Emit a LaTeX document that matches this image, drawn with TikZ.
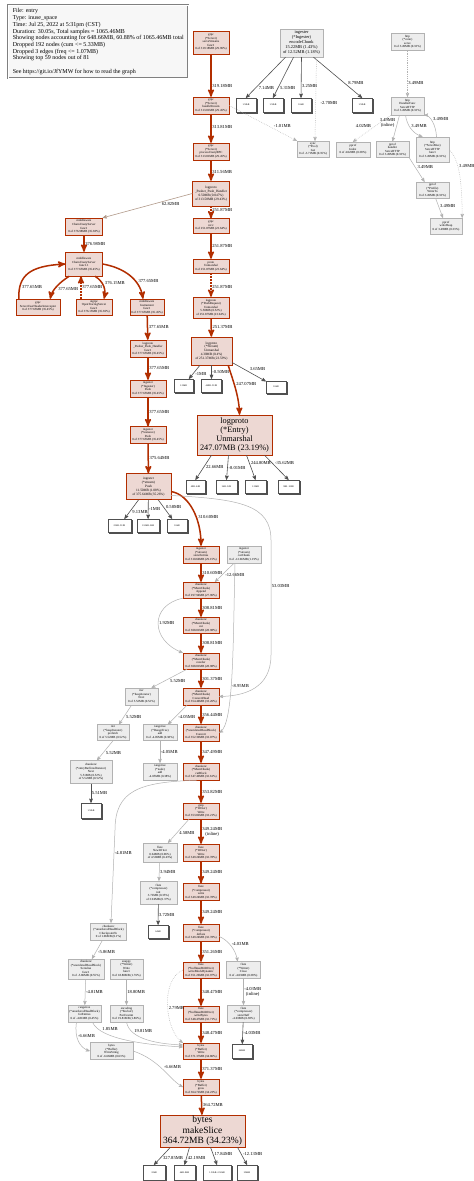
\documentclass[tikz,border=0pt]{standalone}
\usepackage{fontspec}
\setmainfont{Liberation Serif}
\usepackage{tikz}
\usetikzlibrary{arrows,shadows}

\definecolor{hotfill}{HTML}{EDD8D3}
\definecolor{hotline}{HTML}{B22E00}
\definecolor{warmline}{HTML}{B29A8A}
\definecolor{coldfill}{HTML}{EDEDED}
\definecolor{coldline}{HTML}{B2B2B2}
\definecolor{tagline}{HTML}{505050}

\newcommand\fnode{\fontsize{3.1}{3.5}\selectfont}
\newcommand\fmid{\fontsize{3.4}{3.9}\selectfont}
\newcommand\fenc{\fontsize{4.4}{5}\selectfont}
\newcommand\fbig{\fontsize{8.3}{8.9}\selectfont}
\newcommand\fslice{\fontsize{9.5}{10.3}\selectfont}
\newcommand\ftag{\fontsize{2.4}{2.7}\selectfont}
\newcommand\flabel{\fontsize{4.6}{5}\selectfont}
\newcommand\fhead{\fontsize{6}{6.7}\selectfont}

\begin{document}
\begin{tikzpicture}[x=1pt,y=-1pt,>=stealth',auto,
    func node/.style={rectangle,draw=hotline,fill=hotfill,line width=0.4pt,align=center,
      inner sep=0.3pt,font=\fnode,minimum width=36pt,minimum height=17pt},
    cold node/.style={func node,draw=coldline,fill=coldfill},
    tag node/.style={rectangle,draw=tagline,fill=white,line width=0.4pt,font=\ftag,inner sep=0.3pt,
      minimum width=20pt,minimum height=13pt,
      copy shadow={shadow xshift=0.9pt,shadow yshift=-0.9pt,fill=black!45,draw=tagline}},
    legend/.style={anchor=north west,draw=black!50,double=white,double distance=1.3pt,
      fill=black!3,align=left,inner xsep=4.6pt,inner ysep=3.6pt,font=\fhead},
    hot/.style={->,draw=hotline,line width=1.5pt},
    hot dots/.style={hot,dash pattern=on 1.5pt off 1.5pt},
    warm/.style={->,draw=warmline,line width=0.6pt},
    cold/.style={->,draw=coldline,line width=0.5pt},
    cold dots/.style={cold,dash pattern=on 0.6pt off 1.2pt},
    tag edge/.style={->,draw=tagline,line width=0.6pt},
    lbl/.style={font=\flabel,inner sep=0.6pt,align=center}]
  \fill[white] (0,0) rectangle (474,1181);
  \useasboundingbox (0,0) rectangle (474,1181);

  \node[legend] (legend) at (8,5) {File: entry\\Type: inuse\_space\\Time: Jul 25, 2022 at 5:31pm (CST)\\
    Duration: 30.05s, Total samples = 1065.46MB\\
    Showing nodes accounting for 648.66MB, 60.88\% of 1065.46MB total\\
    Dropped 192 nodes (cum <= 5.33MB)\\Dropped 3 edges (freq <= 1.07MB)\\
    Showing top 59 nodes out of 81\\[6.7pt]See https://git.io/JfYMW for how to read the graph};

  % grpc entry chain
  \node[func node,minimum height=23pt] (serve) at (211,42.5) {grpc\\(*Server)\\serveStreams\\func1\\0 of 319.18MB (29.96\%)};
  \node[func node] (handle) at (211,105.5) {grpc\\(*Server)\\handleStream\\0 of 313.81MB (29.45\%)};
  \node[func node] (process) at (211,151.5) {grpc\\(*Server)\\processUnaryRPC\\0 of 313.81MB (29.45\%)};
  \node[func node,font=\fmid,minimum width=37pt,minimum height=25pt] (pushh) at (211,193.5) {logproto\\\_Pusher\_Push\_Handler\\0.50MB (0.047\%)\\of 313.58MB (29.43\%)};

  \node[func node,minimum height=15pt] (recv) at (211,226) {grpc\\recv\\0 of 251.87MB (23.64\%)};
  \node[func node,minimum height=14pt] (unmarshal) at (211,266) {proto\\Unmarshal\\0 of 251.87MB (23.64\%)};
  \node[func node,minimum height=21pt] (pushreq) at (211,307.5) {logproto\\(*PushRequest)\\Unmarshal\\5.50MB (0.52\%)\\of 251.87MB (23.64\%)};
  \node[func node,font=\fmid,minimum width=41pt,minimum height=28pt] (stream) at (211.5,351) {logproto\\(*Stream)\\Unmarshal\\4.30MB (0.4\%)\\of 251.37MB (23.59\%)};
  \node[func node,font=\fbig,minimum width=75pt,minimum height=40pt] (entry) at (234.5,435) {logproto\\(*Entry)\\Unmarshal\\247.07MB (23.19\%)};

  \node[tag node,minimum width=19pt] (ta1) at (183.5,385.5) {1.50kB};
  \node[tag node] (ta2) at (211.5,385.5) {448B..512B};
  \node[tag node,minimum height=12pt] (ta3) at (276,387) {16kB};
  \node[tag node,minimum width=19pt] (tb1) at (195.5,486.5) {48B..64B};
  \node[tag node,minimum width=21pt] (tb2) at (226.5,486.5) {24B..32B};
  \node[tag node,minimum width=21pt] (tb3) at (255.5,486.5) {1.50kB};
  \node[tag node,minimum width=21pt] (tb4) at (288.5,486.5) {96B..128B};

  % interceptors
  \node[func node,minimum width=37pt] (chain1) at (84,226.5) {middleware\\ChainUnaryServer\\func1\\0 of 376.98MB (35.38\%)};
  \node[func node,minimum width=37pt,minimum height=24pt] (chain2) at (84,264) {middleware\\ChainUnaryServer\\func1.1\\0 of 377.65MB (35.45\%)};
  \node[func node,minimum width=44pt,minimum height=16pt] (userhdr) at (38,307) {grpc\\ServerUserHeaderInterceptor\\0 of 377.65MB (35.45\%)};
  \node[func node,minimum height=16pt] (otgrpc) at (94,307) {otgrpc\\OpenTracingServer\\func1\\0 of 376.15MB (35.30\%)};
  \node[func node,minimum width=34pt,minimum height=16pt] (instrument) at (147,307) {middleware\\Instrument\\func1\\0 of 377.65MB (35.45\%)};
  \node[func node] (pushfn) at (148,348.5) {logproto\\\_Pusher\_Push\_Handler\\func1\\0 of 377.65MB (35.45\%)};
  \node[func node] (ingpush) at (148,388.5) {ingester\\(*Ingester)\\Push\\0 of 377.65MB (35.45\%)};
  \node[func node] (instpush) at (148,435) {ingester\\(*instance)\\Push\\0 of 377.65MB (35.45\%)};
  \node[func node,font=\fmid,minimum width=45pt,minimum height=26pt] (strpush) at (148.5,486.5) {ingester\\(*stream)\\Push\\11.50MB (1.08\%)\\of 375.64MB (35.26\%)};
  \node[tag node,minimum width=23pt] (tc1) at (119.5,525.5) {256B..512B};
  \node[tag node,minimum width=22pt] (tc2) at (148,525.5) {1.50kB..2kB};
  \node[tag node] (tc3) at (177,525.5) {16kB};

  % chunk and compression chain
  \node[func node] (store) at (201,554.5) {ingester\\(*stream)\\storeEntries\\0 of 310.60MB (29.15\%)};
  \node[func node,minimum height=16pt] (append) at (201,590) {chunkenc\\(*MemChunk)\\Append\\0 of 297.94MB (27.96\%)};
  \node[func node,minimum height=16pt] (cut) at (201,625) {chunkenc\\(*MemChunk)\\cut\\0 of 308.81MB (28.98\%)};
  \node[func node,minimum height=16pt] (reorder) at (201,661) {chunkenc\\(*MemChunk)\\reorder\\0 of 308.81MB (28.98\%)};
  \node[func node] (convhead) at (201,696.5) {chunkenc\\(*MemChunk)\\ConvertHead\\0 of 354.40MB (33.26\%)};
  \node[func node] (convert) at (201,732.5) {chunkenc\\(*unorderedHeadBlock)\\Convert\\0 of 352.39MB (33.07\%)};
  \node[func node] (cutblock) at (201,771.5) {chunkenc\\(*MemChunk)\\cutBlock\\0 of 347.49MB (32.61\%)};
  \node[func node,minimum height=16pt] (gzwrite) at (201,811) {gzip\\(*Writer)\\Write\\0 of 353.82MB (33.21\%)};
  \node[func node] (flwrite) at (201,852.5) {flate\\(*Writer)\\Write\\0 of 349.24MB (32.78\%)};
  \node[func node] (compwrite) at (201,892) {flate\\(*compressor)\\write\\0 of 349.24MB (32.78\%)};
  \node[func node] (deflate) at (201,932.5) {flate\\(*compressor)\\deflate\\0 of 349.24MB (32.78\%)};
  \node[func node,minimum height=16pt] (dynamic) at (201,970) {flate\\(*huffmanBitWriter)\\writeBlockDynamic\\0 of 351.26MB (32.97\%)};
  \node[func node,minimum height=16pt] (wbytes) at (201,1014) {flate\\(*huffmanBitWriter)\\writeBytes\\0 of 348.47MB (32.71\%)};
  \node[func node,minimum height=16pt] (bufwrite) at (201,1051) {bytes\\(*Buffer)\\Write\\0 of 371.37MB (34.86\%)};
  \node[func node,minimum height=16pt] (bufgrow) at (201,1087) {bytes\\(*Buffer)\\grow\\0 of 364.72MB (34.23\%)};
  \node[func node,font=\fslice,minimum width=85pt,minimum height=32pt] (slice) at (202.5,1131) {bytes\\makeSlice\\364.72MB (34.23\%)};
  \node[tag node,minimum width=22pt,minimum height=15pt] (td1) at (154,1172.5) {32kB};
  \node[tag node,minimum width=21pt,minimum height=15pt] (td2) at (184.5,1172.5) {4kB..8kB};
  \node[tag node,minimum width=28pt,minimum height=15pt] (td3) at (217,1172.5) {1.50kB..2.50kB};
  \node[tag node,minimum height=15pt] (td4) at (247,1172.5) {256kB};

  % side branches
  \node[cold node,minimum width=34pt] (cutchunk) at (244,554.5) {ingester\\(*stream)\\cutChunk\\0 of -12.66MB (1.19\%)};
  \node[cold node,minimum width=33pt] (heapnext) at (141.5,696.5) {iter\\(*heapIterator)\\Next\\0 of 5.52MB (0.52\%)};
  \node[cold node,minimum width=32pt,minimum height=16pt] (prefetch) at (113,732.5) {iter\\(*heapIterator)\\prefetch\\0 of 5.52MB (0.52\%)};
  \node[cold node,minimum width=42pt,minimum height=23pt] (bufnext) at (91,772) {chunkenc\\(*entryBufferedIterator)\\Next\\5.51MB (0.52\%)\\of 5.52MB (0.52\%)};
  \node[tag node,minimum height=15pt] (tl3) at (91,810.5) {1.50kB};
  \node[cold node,minimum width=34pt,minimum height=16pt] (rtadd) at (160,732.5) {rangetree\\(*RangeTree)\\add\\0 of -4.05MB (0.38\%)};
  \node[cold node,minimum width=34pt] (rtnode) at (160,771.5) {rangetree\\(*node)\\add\\-4.05MB (0.38\%)};
  \node[cold node,minimum width=34pt,minimum height=19pt] (newwriter) at (160,852.5) {flate\\NewWriter\\0.64MB (0.06\%)\\of 4.58MB (0.43\%)};
  \node[cold node,minimum width=37pt,minimum height=23pt] (compinit) at (158.5,892.5) {flate\\(*compressor)\\init\\3.72MB (0.35\%)\\of 3.94MB (0.37\%)};
  \node[tag node] (tm2) at (158,931.5) {64kB};
  \node[cold node] (checkpoint) at (108.5,931.5) {chunkenc\\(*unorderedHeadBlock)\\CheckpointTo\\0 of 1.06MB (0.1\%)};
  \node[cold node,minimum height=20pt] (serfunc) at (86,969) {chunkenc\\(*unorderedHeadBlock)\\Serialise\\func1\\0 of -5.86MB (0.55\%)};
  \node[cold node,minimum width=33pt,minimum height=20pt] (snappy) at (126.5,969) {snappy\\(*Writer)\\Write\\func1\\0 of 18.80MB (1.76\%)};
  \node[cold node,minimum width=33pt] (forentries) at (84.5,1013.5) {rangetree\\(*unorderedHeadBlock)\\forEntries\\0 of -4.81MB (0.45\%)};
  \node[cold node,minimum width=33pt] (uvarint) at (126.5,1013.5) {encoding\\(*Encbuf)\\PutUvarint\\0 of 19.81MB (1.86\%)};
  \node[cold node,minimum width=43pt] (wstring) at (111.5,1051) {bytes\\(*Buffer)\\WriteString\\0 of -6.66MB (0.63\%)};
  \node[cold node,minimum width=34pt] (flclose) at (243.5,970) {flate\\(*Writer)\\Close\\0 of -4.03MB (0.38\%)};
  \node[cold node,minimum width=32pt] (storehuff) at (243.5,1013.5) {flate\\(*compressor)\\storeHuff\\-4.03MB (0.38\%)};
  \node[tag node,minimum height=14pt] (tr2) at (242,1051) {640kB};

  % top right
  \node[cold node,font=\fenc,minimum width=43pt,minimum height=28pt] (encode) at (301.5,43) {ingester\\(*Ingester)\\encodeChunk\\15.22MB (1.43\%)\\of 12.52MB (1.18\%)};
  \node[tag node,minimum height=14pt] (te1) at (246,105) {1.50kB};
  \node[tag node,minimum height=14pt] (te2) at (273,105) {1.50kB};
  \node[tag node,minimum height=14pt] (te3) at (301,105) {16kB};
  \node[tag node,minimum height=14pt] (te4) at (362,105) {1.50kB};
  \node[cold node,minimum width=32pt,minimum height=16pt] (poolget) at (313,149) {sync\\(*Pool)\\Get\\0 of -3.71MB (0.35\%)};
  \node[cold node,minimum width=33pt] (conn) at (407.5,42) {http\\(*conn)\\serve\\0 of 3.49MB (0.33\%)};
  \node[cold node,minimum width=33pt,minimum height=18pt] (handler) at (407.5,106) {http\\HandlerFunc\\ServeHTTP\\0 of 3.49MB (0.33\%)};
  \node[cold node,minimum width=34pt,minimum height=15pt] (pindex) at (353,149.5) {pprof\\Index\\0 of 4.02MB (0.38\%)};
  \node[cold node,minimum width=33pt,minimum height=16pt] (phandler) at (392.5,149.5) {pprof\\handler\\ServeHTTP\\0 of 3.49MB (0.33\%)};
  \node[cold node,minimum width=33pt,minimum height=25pt] (mux) at (432.5,149.5) {http\\(*ServeMux)\\ServeHTTP\\func1\\0 of 3.49MB (0.33\%)};
  \node[cold node,minimum width=33pt,minimum height=16pt] (writeto) at (432.5,190) {pprof\\(*Profile)\\WriteTo\\0 of 3.49MB (0.33\%)};
  \node[cold node,minimum width=32pt,minimum height=16pt] (writeheap) at (446,226) {pprof\\writeHeap\\0 of 3.49MB (0.33\%)};

  % edges of the main chains
  \path
    (serve) edge[hot] node[lbl,pos=0.75] {319.18MB} (handle)
    (handle) edge[hot] node[lbl,pos=0.45] {313.81MB} (process)
    (process) edge[hot] node[lbl,pos=0.55] {311.56MB} (pushh)
    (pushh) edge[hot dots] node[lbl,pos=0.3] {251.87MB} (recv)
    (recv) edge[hot] node[lbl] {251.87MB} (unmarshal)
    (unmarshal) edge[hot dots] node[lbl,pos=0.58] {251.87MB} (pushreq)
    (pushreq) edge[hot] node[lbl] {251.37MB} (stream)
    (pushh.west) edge[warm] node[lbl,pos=0.35] {62.82MB} (chain1.north east)
    (chain1) edge[hot] node[lbl] {376.98MB} (chain2)
    ([xshift=-13pt]otgrpc.north) edge[hot dots] node[lbl,swap] {377.65MB} ([xshift=-3pt]chain2.south)
    (instrument) edge[hot] node[lbl] {377.65MB} (pushfn)
    (pushfn) edge[hot] node[lbl] {377.65MB} (ingpush)
    (ingpush) edge[hot] node[lbl] {377.65MB} (instpush)
    (instpush) edge[hot] node[lbl] {375.64MB} (strpush)
    (store) edge[hot] node[lbl] {310.60MB} (append)
    (append) edge[hot] node[lbl] {308.81MB} (cut)
    (cut) edge[hot] node[lbl] {308.81MB} (reorder)
    (reorder) edge[hot] node[lbl] {301.37MB} (convhead)
    (convhead) edge[hot] node[lbl] {356.44MB} (convert)
    (convert) edge[hot] node[lbl] {347.49MB} (cutblock)
    (cutblock) edge[hot] node[lbl] {353.82MB} (gzwrite)
    (gzwrite) edge[hot] node[lbl] {349.24MB\\(inline)} (flwrite)
    (flwrite) edge[hot] node[lbl] {349.24MB} (compwrite)
    (compwrite) edge[hot] node[lbl] {349.24MB} (deflate)
    (deflate) edge[hot] node[lbl] {351.26MB} (dynamic)
    (dynamic) edge[hot] node[lbl] {348.47MB} (wbytes)
    (wbytes) edge[hot] node[lbl] {348.47MB} (bufwrite)
    (bufwrite) edge[hot] node[lbl] {371.37MB} (bufgrow)
    (bufgrow) edge[hot] node[lbl] {364.72MB} (slice);

  \draw[hot] ([xshift=-4pt]stream.south east) .. controls (232,378) and (239,395) .. node[lbl] {247.07MB} ([xshift=5pt]entry.north);
  \draw[hot] ([xshift=4pt]chain2.south west) .. controls (60,282) and (52,290) .. node[lbl] {377.65MB} ([xshift=-10pt]userhdr.north east);
  \draw[hot] ([xshift=3pt]userhdr.north west) .. controls (18,275) and (30,266) .. node[lbl,pos=0.25,swap] {377.65MB} (chain2.west);
  \draw[hot] ([xshift=11pt]chain2.south) .. controls (104,282) and (106,290) .. node[lbl] {376.15MB} ([xshift=10pt]otgrpc.north);
  \draw[hot] (chain2.east) .. controls (125,268) and (140,280) .. node[lbl,pos=0.7] {377.65MB} ([xshift=-4pt]instrument.north);
  \draw[hot] ([yshift=-5pt]strpush.east) .. controls (190,495) and (201,520) .. node[lbl,pos=0.65] {310.60MB} (store.north);
  \draw[cold] ([yshift=-9pt]strpush.east) .. controls (240,499) and (271,505) .. (271,540)
    -- node[lbl,pos=0.4] {53.03MB} (271,655) .. controls (271,688) and (245,696) .. (convhead.east);
  \draw[cold] (append.south west) .. controls (150,605) and (150,640) .. node[lbl] {1.92MB} (reorder.north west);

  % side edges
  \path
    ([xshift=-10pt]cutchunk.south) edge[cold] node[lbl] {-12.66MB} ([xshift=14pt]append.north)
    ([xshift=-14pt]reorder.south) edge[cold] node[lbl] {5.52MB} ([xshift=10pt]heapnext.north)
    ([xshift=-14pt]convhead.south) edge[cold] node[lbl] {-4.05MB} ([xshift=8pt]rtadd.north)
    ([xshift=-10pt]heapnext.south) edge[cold] node[lbl] {5.52MB} ([xshift=6pt]prefetch.north)
    (prefetch.south) edge[cold] node[lbl] {5.52MB} ([xshift=6pt]bufnext.north)
    (rtadd) edge[cold] node[lbl] {-4.05MB} (rtnode)
    ([xshift=-12pt]gzwrite.south) edge[cold] node[lbl] {4.58MB} ([xshift=8pt]newwriter.north)
    (newwriter) edge[cold] node[lbl] {3.94MB} (compinit)
    ([xshift=-6pt]checkpoint.south) edge[cold] node[lbl] {-5.86MB} ([xshift=6pt]serfunc.north)
    (serfunc) edge[cold] node[lbl] {-4.81MB} (forentries)
    (snappy) edge[cold] node[lbl] {18.80MB} (uvarint)
    (flclose) edge[cold] node[lbl] {-4.03MB\\(inline)} (storehuff);
  \draw[cold] ([xshift=-9pt]cutchunk.south) .. controls (233,640) and (234,725) .. node[lbl,pos=0.55] {-8.95MB} (convert.east);
  \draw[cold] ([xshift=-4pt]cutblock.south) .. controls (140,782) and (115,790) .. (115,830)
    -- node[lbl,pos=0.25] {-4.81MB} ([xshift=2.5pt]checkpoint.north);
  \draw[cold] ([xshift=-8pt]forentries.south) .. controls (74,1038) and (80,1048) .. node[lbl,pos=0.4] {-6.66MB} (wstring.west);
  \draw[cold] ([xshift=8pt]forentries.south) .. controls (100,1040) and (150,1045) .. node[lbl,pos=0.2] {1.85MB} ([yshift=4pt]bufwrite.west);
  \draw[cold] (uvarint.south) .. controls (130,1040) and (160,1044) .. node[lbl,pos=0.25] {19.81MB} ([yshift=6pt]bufwrite.west);
  \draw[cold] (wstring.east) .. controls (160,1060) and (170,1080) .. node[lbl] {-6.66MB} (bufgrow.west);
  \draw[cold dots] (dynamic.west) .. controls (160,980) and (165,1030) .. node[lbl,pos=0.55] {2.79MB} (bufwrite.north west);
  \draw[cold] ([yshift=-4pt]deflate.east) .. controls (228,940) and (236,950) .. node[lbl] {-4.03MB} ([xshift=-6pt]flclose.north);

  % top right edges
  \path
    ([xshift=-16pt]encode.south) edge[tag edge] node[lbl,pos=0.7] {7.14MB} (te1.north)
    ([xshift=-8pt]encode.south) edge[tag edge] node[lbl,pos=0.7] {5.31MB} (te2.north)
    (encode.south) edge[tag edge] node[lbl,pos=0.7] {3.25MB} (te3.north)
    ([xshift=12pt]encode.south) edge[tag edge] node[lbl,pos=0.7] {8.79MB} (te4.north)
    ([xshift=15pt]encode.south) edge[cold dots] node[lbl,pos=0.55,xshift=4pt] {-2.70MB} ([xshift=2pt]poolget.north)
    (handle.east) edge[cold dots] node[lbl,pos=0.65] {-1.01MB} (poolget.north west)
    (conn) edge[cold dots] node[lbl,pos=0.7] {3.49MB} (handler)
    (handler.south west) edge[cold dots] node[lbl,swap] {4.02MB} (pindex.north)
    ([xshift=-8pt]handler.south) edge[cold] node[lbl,swap] {3.49MB\\(inline)} (phandler.north)
    (phandler.south east) edge[cold] node[lbl] {3.49MB} ([xshift=-8pt]writeto.north)
    (writeto) edge[cold] node[lbl] {3.49MB} (writeheap);
  \draw[cold] ([xshift=-2pt]handler.south) .. controls (407,125) and (412,133) .. node[lbl] {3.49MB} ([xshift=-10pt]mux.north);
  \draw[cold] ([xshift=4pt]mux.north) .. controls (436,125) and (430,115) .. node[lbl,swap] {3.49MB} (handler.south east);
  \draw[cold dots] (mux.east) .. controls (460,160) and (462,185) .. node[lbl,pos=0.4] {3.49MB} (writeheap.north east);

  % tag edges
  \path
    (stream) edge[tag edge] node[lbl] {-1MB} (ta1)
    (stream) edge[tag edge] node[lbl] {-0.50MB} (ta2)
    (stream) edge[tag edge] node[lbl] {3.65MB} (ta3)
    ([xshift=-23pt]entry.south) edge[tag edge] node[lbl,pos=0.4] {22.66MB} (tb1.north)
    ([xshift=-6pt]entry.south) edge[tag edge] node[lbl,pos=0.4] {-8.01MB} (tb2.north)
    ([xshift=12pt]entry.south) edge[tag edge] node[lbl,pos=0.4] {244.80MB} (tb3.north)
    ([xshift=30pt]entry.south) edge[tag edge] node[lbl,pos=0.4] {-35.62MB} (tb4.north)
    (strpush) edge[tag edge] node[lbl] {9.13MB} (tc1)
    (strpush) edge[tag edge] node[lbl] {-1MB} (tc2)
    (strpush) edge[tag edge] node[lbl] {0.58MB} (tc3)
    (bufnext) edge[tag edge] node[lbl] {5.51MB} (tl3)
    (compinit) edge[tag edge] node[lbl] {3.72MB} (tm2)
    (storehuff) edge[tag edge] node[lbl] {-4.03MB} (tr2)
    ([xshift=-32pt]slice.south) edge[tag edge] node[lbl] {327.85MB} (td1.north)
    ([xshift=-13pt]slice.south) edge[tag edge] node[lbl] {42.19MB} (td2.north)
    ([xshift=8pt]slice.south) edge[tag edge] node[lbl] {17.84MB} (td3.north)
    ([xshift=35pt]slice.south) edge[tag edge] node[lbl] {-12.13MB} (td4.north);
\end{tikzpicture}
\end{document}
